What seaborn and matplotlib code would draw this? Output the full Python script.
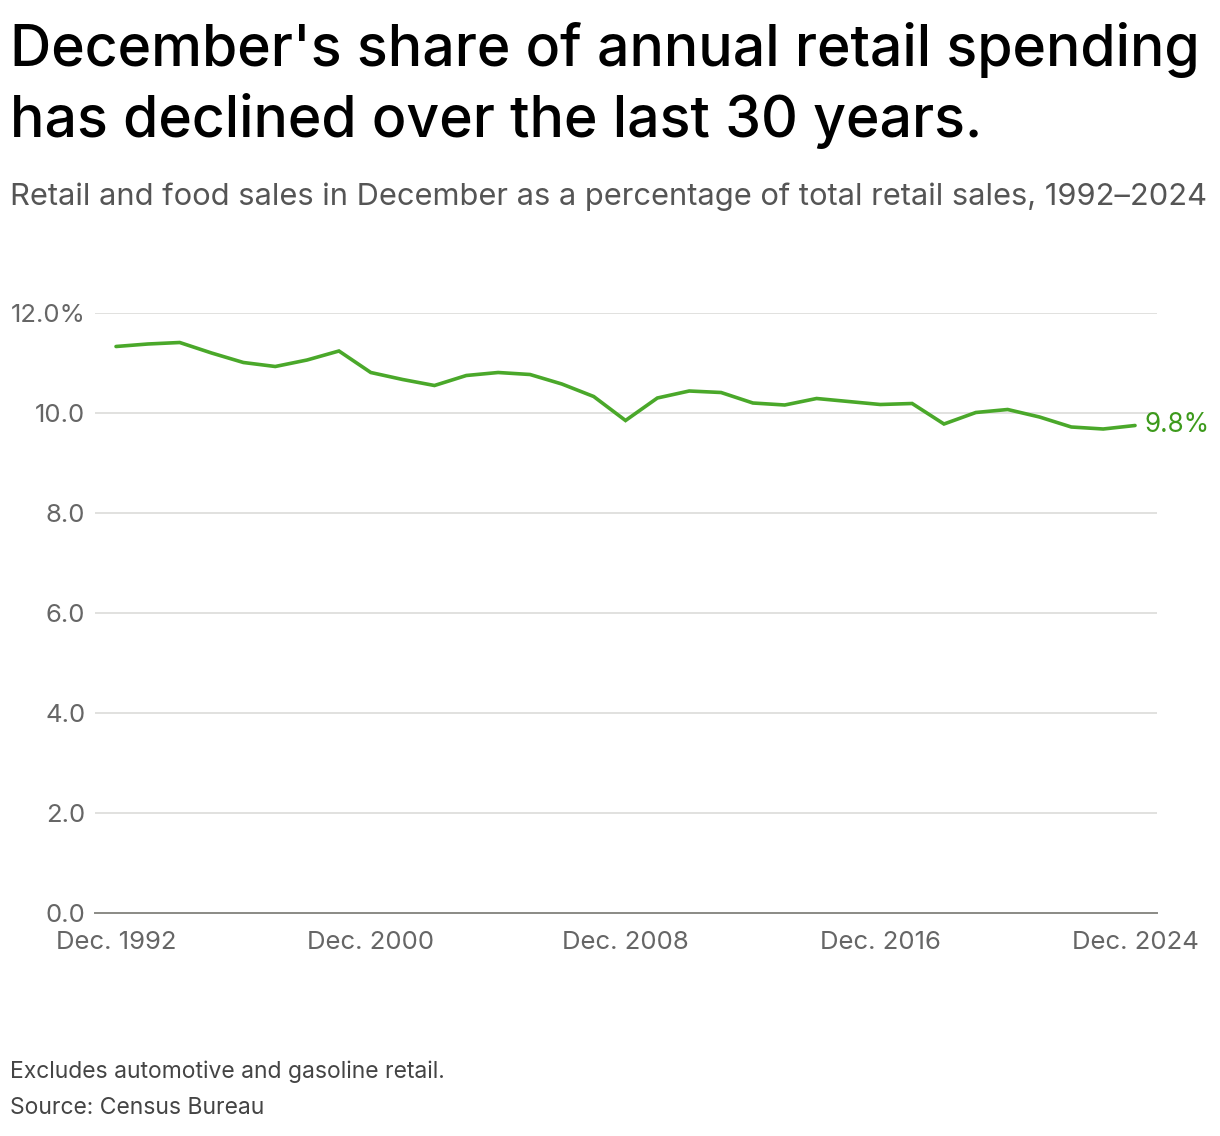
#!/usr/bin/env python3

from matplotlib import pyplot as plt
import pandas as pd
import seaborn as sns

# December share of annual retail + food sales, percent
years = list(range(1992, 2025))
share = [
    11.33, 11.38, 11.41, 11.20, 11.01, 10.93, 11.06, 11.24, 10.81, 10.67,
    10.55, 10.75, 10.81, 10.77, 10.58, 10.33, 9.85, 10.30, 10.44, 10.41,
    10.20, 10.16, 10.29, 10.23, 10.17, 10.19, 9.78, 10.01, 10.07, 9.92,
    9.72, 9.68, 9.75,
]
y_ticks = [0, 2, 4, 6, 8, 10, 12]
y_labels = ["0.0", "2.0", "4.0", "6.0", "8.0", "10.0", "12.0%"]
x_ticks = [1992, 2000, 2008, 2016, 2024]
x_labels = [f"Dec. {y}" for y in x_ticks]
end_label = "9.8%"

title_lines = ["December's share of annual retail spending",
               "has declined over the last 30 years."]
subtitle = "Retail and food sales in December as a percentage of total retail sales, 1992\u20132024"
notes = ["Excludes automotive and gasoline retail.", "Source: Census Bureau"]

GREEN = "#4aa82a"
GREEN_TXT = "#3d9a1c"
GREY_TXT = "#666666"


def main():
    df = pd.DataFrame({"year": years, "share": share})

    sns.set_theme(style="white")
    plt.rcParams["font.family"] = ["Inter", "DejaVu Sans"]

    fig = plt.figure(figsize=(12.2, 11.36), dpi=100)
    ax = fig.add_axes([95 / 1220, 1 - 913 / 1136, 1062 / 1220, 600 / 1136])

    sns.lineplot(data=df, x="year", y="share", ax=ax, color=GREEN,
                 linewidth=2.6, solid_joinstyle="miter")

    ax.set_xlim(1991.34, 2024.69)
    ax.set_ylim(0, 12)
    ax.set_yticks(y_ticks)
    ax.set_yticklabels(y_labels)
    ax.set_xticks(x_ticks)
    ax.set_xticklabels(x_labels)
    ax.set_xlabel("")
    ax.set_ylabel("")

    for t in y_ticks[1:]:
        ax.axhline(t, color="#d9d9d6", linewidth=1.1, zorder=0)

    for s in ["top", "right", "left"]:
        ax.spines[s].set_visible(False)
    ax.spines["bottom"].set_color("#8a8a85")
    ax.spines["bottom"].set_linewidth(1.4)

    ax.tick_params(axis="y", length=0, pad=7, labelsize=18.5, labelcolor=GREY_TXT)
    ax.tick_params(axis="x", length=0, pad=13, labelsize=18.5, labelcolor=GREY_TXT)

    ax.text(years[-1] + 0.3, share[-1], end_label, color=GREEN_TXT,
            fontsize=18.8, va="center", ha="left")

    for line, ypix in zip(title_lines, [50, 121]):
        fig.text(10 / 1220, 1 - ypix / 1136, line, fontsize=41.2, color="black",
                 va="center", ha="left", fontweight="medium")
    fig.text(10 / 1220, 1 - 197 / 1136, subtitle, fontsize=22.2, color="#555555",
             va="center", ha="left")
    fig.text(10 / 1220, 1 - 1072 / 1136, notes[0], fontsize=16.5, color="#444444",
             va="center", ha="left")
    fig.text(10 / 1220, 1 - 1108 / 1136, notes[1], fontsize=16.5, color="#444444",
             va="center", ha="left")

    plt.savefig("out.png", dpi=100)


if __name__ == "__main__":
    main()
